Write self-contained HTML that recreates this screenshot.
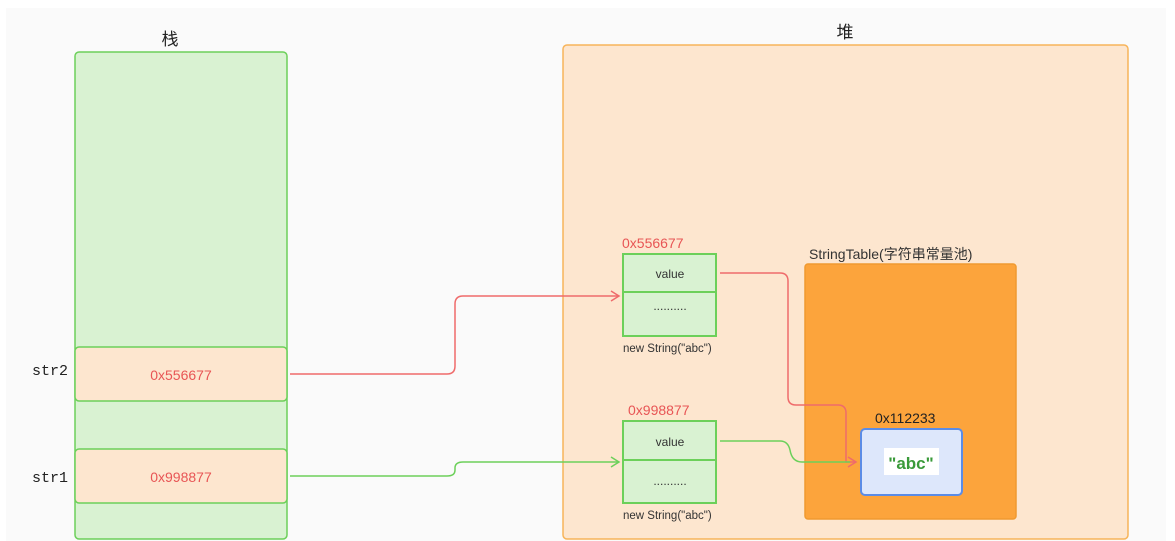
<!DOCTYPE html>
<html><head><meta charset="utf-8"><style>
html,body{margin:0;padding:0;background:#fff;}
svg{display:block;font-family:"Liberation Sans","Noto Sans CJK SC",sans-serif;}
</style></head><body>
<svg width="1175" height="541" viewBox="0 0 1175 541" xmlns="http://www.w3.org/2000/svg">
<rect x="0" y="0" width="1175" height="541" fill="#fff"/>
<rect x="6" y="8" width="1160" height="533" fill="#fafafa"/>
<text x="170" y="45" font-size="17" text-anchor="middle" fill="#222">栈</text>
<rect x="75" y="52" width="212" height="487" rx="4" fill="#d9f2d2" stroke="#6cd05a" stroke-width="1.5"/>
<rect x="75" y="347" width="212" height="54" rx="4" fill="#fde6cf" stroke="#6cd05a" stroke-width="1.5"/>
<rect x="75" y="449" width="212" height="54" rx="4" fill="#fde6cf" stroke="#6cd05a" stroke-width="1.5"/>
<text x="181" y="380" font-size="14" text-anchor="middle" fill="#e85555">0x556677</text>
<text x="181" y="482" font-size="14" text-anchor="middle" fill="#e85555">0x998877</text>
<text x="68" y="375" font-size="15" text-anchor="end" fill="#222" font-family="Liberation Mono,monospace">str2</text>
<text x="68" y="482" font-size="15" text-anchor="end" fill="#222" font-family="Liberation Mono,monospace">str1</text>

<text x="845" y="38" font-size="17" text-anchor="middle" fill="#222">堆</text>
<rect x="563" y="45" width="565" height="494" rx="4" fill="#fde6cf" stroke="#f7b45a" stroke-width="1.5"/>

<text x="622" y="248" font-size="14" fill="#e85555">0x556677</text>
<rect x="623" y="254" width="93" height="82" fill="#d9f2d2" stroke="#6cd05a" stroke-width="2"/>
<line x1="623" y1="292" x2="716" y2="292" stroke="#6cd05a" stroke-width="2"/>
<text x="670" y="278" font-size="12" text-anchor="middle" fill="#333">value</text>
<text x="670" y="310" font-size="12" text-anchor="middle" fill="#333">..........</text>
<text x="623" y="352" font-size="11.5" fill="#333">new String("abc")</text>

<text x="628" y="415" font-size="14" fill="#e85555">0x998877</text>
<rect x="623" y="421" width="93" height="82" fill="#d9f2d2" stroke="#6cd05a" stroke-width="2"/>
<line x1="623" y1="460" x2="716" y2="460" stroke="#6cd05a" stroke-width="2"/>
<text x="670" y="446" font-size="12" text-anchor="middle" fill="#333">value</text>
<text x="670" y="485" font-size="12" text-anchor="middle" fill="#333">..........</text>
<text x="623" y="519" font-size="11.5" fill="#333">new String("abc")</text>

<text x="809" y="259" font-size="14" fill="#333">StringTable(字符串常量池)</text>
<rect x="805" y="264" width="211" height="255" rx="3" fill="#fca43c" stroke="#f09a30" stroke-width="1.5"/>
<text x="875" y="423" font-size="14" fill="#222">0x112233</text>
<rect x="861" y="429" width="101" height="66" rx="4" fill="#dde7fb" stroke="#5b8ce6" stroke-width="2"/>
<rect x="884" y="448" width="55" height="27" fill="#fff"/>
<text x="911" y="469" font-size="17" font-weight="bold" text-anchor="middle" fill="#3a9a3a">"abc"</text>

<g fill="none" stroke-width="1.5">
<path d="M290 374 H447 Q455 374 455 366 V304 Q455 296 463 296 H619" stroke="#ef6b6b"/>
<path d="M611 291 L619 296 L611 301" stroke="#ef6b6b"/>
<path d="M720 273 H780 Q788 273 788 281 V397 Q788 405 796 405 H838 Q846 405 846 413 V462 H856" stroke="#ef6b6b"/>
<path d="M848 457 L856 462 L848 467" stroke="#ef6b6b"/>
<path d="M290 476 H447 Q455 476 455 470 V468 Q455 462 463 462 H619" stroke="#6cd05a"/>
<path d="M611 457 L619 462 L611 467" stroke="#6cd05a"/>
<path d="M720 441 H780 Q788 441 790 450 Q792 462 802 462 H850" stroke="#6cd05a"/>
</g>
</svg>
</body></html>
